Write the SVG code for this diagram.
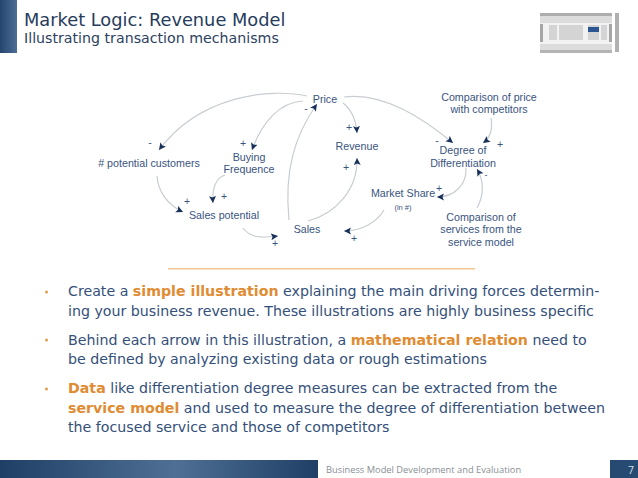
<svg xmlns="http://www.w3.org/2000/svg" width="638" height="478" viewBox="0 0 638 478">
<style>
.n{font-family:"Liberation Sans",Arial,sans-serif;font-size:10.7px;fill:#3a5480;text-anchor:middle}
.c{fill:none;stroke:#c8cdd2;stroke-width:1.2;marker-end:url(#a)}
.b{font-family:"DejaVu Sans",Verdana,sans-serif;font-size:14.2px;fill:#34507a}
.k{font-weight:bold;fill:#df8c33}
</style>
<defs>
<marker id="a" markerWidth="9" markerHeight="9" refX="7" refY="3.500" orient="auto" markerUnits="userSpaceOnUse"><path d="M0 0L7 3.500L0 7L1.500 3.500Z" fill="#17305a"/></marker>
<linearGradient id="g1" x1="0" x2="1" y1="0" y2="0"><stop offset="0" stop-color="#24466e"/><stop offset="1" stop-color="#4d6f96"/></linearGradient>
<linearGradient id="g2" x1="0" x2="1" y1="0" y2="0"><stop offset="0" stop-color="#1f3f66"/><stop offset="0.55" stop-color="#4f7094"/><stop offset="1" stop-color="#1f3f66"/></linearGradient>
</defs>
<rect width="638" height="478" fill="#fff"/>
<rect x="0" y="0" width="17" height="53" fill="url(#g1)"/>
<text x="24" y="26" font-family="DejaVu Sans,Verdana,sans-serif" font-size="17.800" fill="#263c5c">Market Logic: Revenue Model</text>
<text x="24" y="43" font-family="DejaVu Sans,Verdana,sans-serif" font-size="14.200" fill="#2c4260">Illustrating transaction mechanisms</text>
<g id="thumb">
<rect x="540" y="13" width="72" height="40" fill="#dcdcdc"/>
<rect x="540" y="13" width="72" height="3" fill="#adadad"/>
<rect x="540" y="50" width="72" height="3" fill="#b4b4b4"/>
<rect x="540" y="23" width="72" height="21" fill="#f2f2f2"/>
<rect x="540" y="24" width="3" height="18" fill="#a6a6a6"/>
<rect x="549" y="25" width="8" height="15" fill="#d4d4d4"/>
<rect x="559" y="25" width="24" height="15" fill="#d4d4d4"/>
<rect x="588" y="25" width="11" height="15" fill="#d4d4d4"/>
<rect x="601" y="25" width="6" height="15" fill="#d4d4d4"/>
<rect x="609" y="24" width="3" height="18" fill="#a6a6a6"/>
<rect x="588" y="27" width="11" height="5" fill="#2a5590"/>
<rect x="615" y="13" width="4" height="39" fill="#b0b0b0"/>
</g>
<g id="connectors">
<path class="c" d="M307 96C270 88 200 95 159 150"/>
<path class="c" d="M303 101C280 102 262 122 252 150"/>
<path class="c" d="M157 176C158 192 168 205 183 212"/>
<path class="c" d="M225 175C215 178 212 190 213 203"/>
<path class="c" d="M243 228C250 238 262 238 278 236"/>
<path class="c" d="M289 220C284 170 295 135 317 104"/>
<path class="c" d="M308 221C335 214 358 190 357 158"/>
<path class="c" d="M343 103C352 110 356 120 357 133"/>
<path class="c" d="M344 97C385 92 425 120 453 143"/>
<path class="c" d="M491 118C493 130 490 138 483 143"/>
<path class="c" d="M466 168C467 184 455 197 437 197"/>
<path class="c" d="M477 208C484 195 485 183 477 169"/>
<path class="c" d="M384 210C377 222 362 231 344 231"/>
</g>
<g id="price"><text class="n" x="325" y="103">Price</text></g>
<g id="customers"><text class="n" x="149" y="167">&#35; potential customers</text></g>
<g id="buying"><text class="n" x="249" y="161">Buying</text><text class="n" x="249" y="173">Frequence</text></g>
<g id="revenue"><text class="n" x="357" y="149.500">Revenue</text></g>
<g id="comp-price"><text class="n" x="489" y="101">Comparison of price</text><text class="n" x="489" y="113">with competitors</text></g>
<g id="degree"><text class="n" x="463" y="154">Degree of</text><text class="n" x="463" y="167">Differentiation</text></g>
<g id="share"><text class="n" x="403" y="197">Market Share</text><text x="403" y="210" font-family="Liberation Sans,sans-serif" font-size="7.500" fill="#3a5480" text-anchor="middle">(in #)</text></g>
<g id="potential"><text class="n" x="224" y="219">Sales potential</text></g>
<g id="sales"><text class="n" x="307" y="233">Sales</text></g>
<g id="comp-serv"><text class="n" x="481" y="221">Comparison of</text><text class="n" x="481" y="233">services from the</text><text class="n" x="481" y="246">service model</text></g>
<g id="signs" font-family="Liberation Sans,sans-serif" font-size="10.500" fill="#3a5480" text-anchor="middle">
<text x="150" y="146">-</text><text x="243" y="147">+</text><text x="187" y="205">+</text><text x="224" y="200">+</text><text x="275" y="247">+</text><text x="306" y="112">-</text><text x="349" y="131">+</text><text x="346" y="171">+</text><text x="354" y="242">+</text><text x="437" y="144">-</text><text x="500" y="148">+</text><text x="486" y="178" font-size="9">-</text><text x="439" y="192">+</text>
</g>
<rect x="168" y="268" width="307" height="1.500" fill="#f4c595"/>
<g fill="#e59a4c"><circle cx="46.500" cy="292" r="1.500"/><circle cx="46.500" cy="340" r="1.500"/><circle cx="46.500" cy="389" r="1.500"/></g>
<text class="b" x="68" y="296">Create a <tspan class="k">simple illustration</tspan> explaining the main driving forces determin-</text>
<text class="b" x="68" y="316">ing your business revenue. These illustrations are highly business specific</text>
<text class="b" x="68" y="345">Behind each arrow in this illustration, a <tspan class="k">mathematical relation</tspan> need to</text>
<text class="b" x="68" y="364">be defined by analyzing existing data or rough estimations</text>
<text class="b" x="68" y="393"><tspan class="k">Data</tspan> like differentiation degree measures can be extracted from the</text>
<text class="b" x="68" y="413"><tspan class="k">service model</tspan> and used to measure the degree of differentiation between</text>
<text class="b" x="68" y="432">the focused service and those of competitors</text>
<rect x="0" y="460" width="318" height="18" fill="url(#g2)"/>
<text x="326" y="473" font-family="Open Sans,Noto Sans,sans-serif" font-size="9.300" fill="#8a8f96">Business Model Development and Evaluation</text>
<rect x="610" y="460" width="28" height="18" fill="#264a72"/>
<text x="631" y="473.500" font-family="Open Sans,sans-serif" font-size="10.500" fill="#d8dfe8" text-anchor="middle">7</text>
</svg>
